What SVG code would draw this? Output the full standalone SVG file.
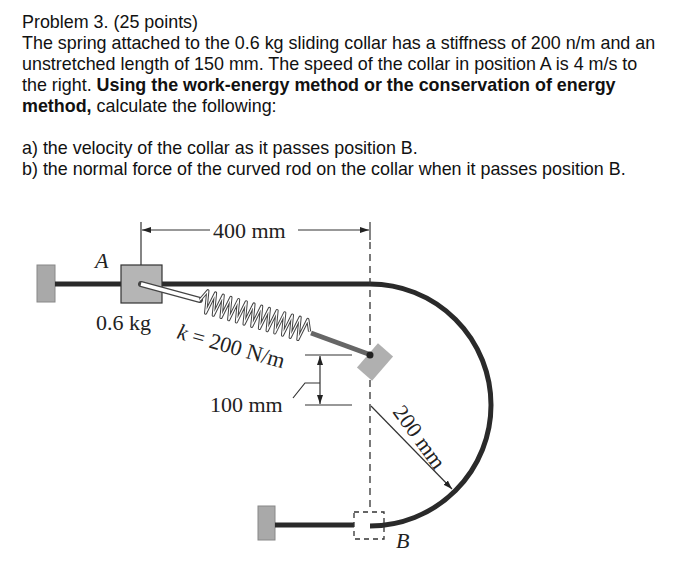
<svg xmlns="http://www.w3.org/2000/svg" width="693" height="574" viewBox="0 0 693 574">
<defs>
<style>
.t{font-family:"Liberation Sans",Arial,sans-serif;font-size:17.9px;fill:#111}
.b{font-weight:bold}
.s{font-family:"Liberation Serif","Times New Roman",serif;font-size:22px;fill:#222}
.rod{stroke:#2a2a2a;stroke-width:5;fill:none}
.dim{stroke:#333;stroke-width:1.2;fill:none}
.dash{stroke:#333;stroke-width:1.3;stroke-dasharray:7,5;fill:none}
.wall{fill:#a9a9a9;stroke:#888}
</style>
<marker id="ar" markerWidth="10" markerHeight="8" refX="9" refY="4" orient="auto" markerUnits="userSpaceOnUse"><path d="M0,1 L9,4 L0,7 Z" fill="#222"/></marker>
</defs>
<rect width="693" height="574" fill="#fff"/>
<g id="text">
<text class="t" x="22" y="28">Problem 3. (25 points)</text>
<text class="t" x="22" y="49">The spring attached to the 0.6 kg sliding collar has a stiffness of 200 n/m and an</text>
<text class="t" x="22" y="70">unstretched length of 150 mm. The speed of the collar in position A is 4 m/s to</text>
<text class="t" x="22" y="91">the right. <tspan class="b">Using the work-energy method or the conservation of energy</tspan></text>
<text class="t" x="22" y="112"><tspan class="b">method,</tspan> calculate the following:</text>
<text class="t" x="22" y="154">a) the velocity of the collar as it passes position B.</text>
<text class="t" x="22" y="175">b) the normal force of the curved rod on the collar when it passes position B.</text>
</g>
<g id="rod">
<rect class="wall" x="37" y="265" width="18" height="37"/>
<path class="rod" d="M55,284 H370 A121,121 0 0 1 370,526"/>
<rect class="wall" x="258" y="506" width="17" height="34"/>
<path class="rod" d="M275,525 H354"/>
</g>
<g id="collarA">
<rect x="121" y="265" width="41" height="38" fill="#b5b5b5" stroke="#333" stroke-width="1.2"/>
<text class="s" x="95" y="268" font-style="italic">A</text>
<text class="s" x="96" y="330">0.6 kg</text>
</g>
<g id="spring">
<path d="M141,284 L200,300" stroke="#444" stroke-width="6" stroke-linecap="round"/>
<path d="M141,284 L200,300" stroke="#fff" stroke-width="3.5"/>
<path d="M200,300 l5,-11 l4,22 l4,-22 l4,22 l4,-22 l4,22 l4,-22 l4,22 l4,-22 l4,22 l4,-22 l4,22 l4,-22 l4,22 l4,-22 l4,22 l4,-22 l4,22 l4,-22 l4,22 l4,-22 l4,22 l4,-22 l4,22 l4,-22 l4,22 l4,-22 l5,11" transform="rotate(16 200 300)" stroke="#444" stroke-width="3.2" fill="none" stroke-linejoin="round"/>
<path d="M200,300 l5,-11 l4,22 l4,-22 l4,22 l4,-22 l4,22 l4,-22 l4,22 l4,-22 l4,22 l4,-22 l4,22 l4,-22 l4,22 l4,-22 l4,22 l4,-22 l4,22 l4,-22 l4,22 l4,-22 l4,22 l4,-22 l4,22 l4,-22 l4,22 l4,-22 l5,11" transform="rotate(16 200 300)" stroke="#fff" stroke-width="1.2" fill="none" stroke-linejoin="round"/>
<path d="M311,333 L371,355" stroke="#666" stroke-width="5"/>
<text class="s" x="176" y="338" transform="rotate(16 176 338)"><tspan font-style="italic">k</tspan> = 200 N/m</text>
</g>
<g id="collarB">
<rect x="359" y="352" width="32" height="20" fill="#b0b0b0" transform="rotate(-49 375 362)"/>
<circle cx="370" cy="355" r="3.5" fill="#222"/>
<rect x="354" y="512" width="30" height="27" fill="none" stroke="#333" stroke-width="1.3" stroke-dasharray="5,4"/>
<text class="s" x="396" y="548" font-style="italic">B</text>
</g>
<g id="connectors">
<path class="dim" d="M141,222 V265"/>
<path class="dim" d="M210,230 H142" marker-end="url(#ar)"/>
<path class="dim" d="M298,230 H369" marker-end="url(#ar)"/>
<path class="dim" d="M370,222 V240"/>
<path class="dash" d="M370,242 V345 M370,380 V512"/>
<path class="dim" d="M305,355 H352 M305,405 H352"/>
<path class="dim" d="M320,370 V356" marker-end="url(#ar)"/>
<path class="dim" d="M320,390 V404" marker-end="url(#ar)"/>
<path class="dim" d="M320,370 V390"/>
<path class="dim" d="M293,398 L305,383 H320"/>
<path class="dim" d="M371,406 L452,489" marker-end="url(#ar)"/>
<text class="s" x="213" y="238">400 mm</text>
<text class="s" x="210" y="412">100 mm</text>
<text class="s" x="392" y="412" transform="rotate(54 392 412)">200 mm</text>
</g>
</svg>
